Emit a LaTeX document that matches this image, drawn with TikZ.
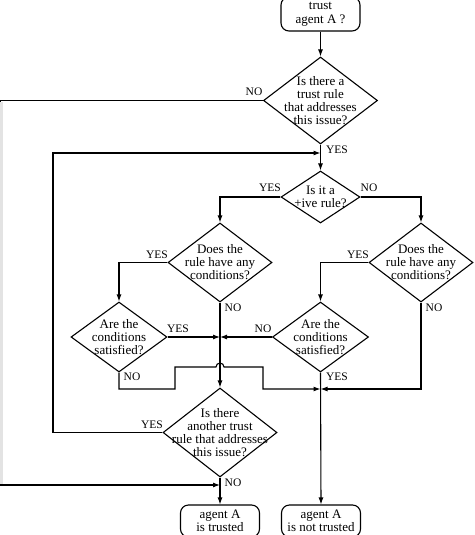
\documentclass[tikz,border=0pt]{standalone}
\usepackage{fontspec}
\setmainfont{Liberation Serif}
\usetikzlibrary{shapes.geometric,arrows.meta}
\begin{document}
\begin{tikzpicture}[x=1pt,y=-1pt,
  line width=1.1pt,
  >={Latex[length=7pt,width=5pt]},
  dia/.style={draw,diamond,inner sep=0pt,line width=1.1pt},
  txt/.style={align=center,font=\fontsize{13}{13}\selectfont,inner sep=0pt},
  term/.style={draw,rounded corners=8pt,minimum width=79pt,align=center,
    font=\fontsize{13}{13.5}\selectfont,inner sep=0pt},
  lbl/.style={font=\fontsize{11.5}{12}\selectfont,inner sep=0pt}]
\useasboundingbox (0,0) rectangle (474,535);

% terminals
\node[term,minimum height=34pt] (start) at (320.5,14) {trust\\agent A ?};
\node[term,minimum height=32pt] (yes) at (220,521) {agent A\\is trusted};
\node[term,minimum height=32pt] (no) at (321,521) {agent A\\is not trusted};

% decisions
\node[dia,minimum width=114pt,minimum height=87pt] (d1) at (320.5,100.5) {};
\node[txt] at (d1) {Is there a\\trust rule\\that addresses\\this issue?};
\node[dia,minimum width=79pt,minimum height=52pt] (d2) at (320.5,197) {};
\node[txt] at (d2) {Is it a\\+ive rule?};
\node[dia,minimum width=104pt,minimum height=79pt] (d3) at (220,262.5) {};
\node[txt] at (d3) {Does the\\rule have any\\conditions?};
\node[dia,minimum width=104pt,minimum height=79pt] (d4) at (421,262.5) {};
\node[txt] at (d4) {Does the\\rule have any\\conditions?};
\node[dia,minimum width=96pt,minimum height=70pt] (d5) at (119,337) {};
\node[txt] at (d5) {Are the\\conditions\\satisfied?};
\node[dia,minimum width=96pt,minimum height=70pt] (d6) at (320.5,337) {};
\node[txt] at (d6) {Are the\\conditions\\satisfied?};
\node[dia,minimum width=114pt,minimum height=89pt] (d7) at (220,432.5) {};
\node[txt] at (d7) {Is there\\another trust\\rule that addresses\\this issue?};

% junction points
\coordinate (jtop) at (320.5,153);
\coordinate (j1) at (220,337);
\coordinate (j2) at (320.5,389);
\coordinate (jb) at (220,485);

% connectors
\draw[->] (start) -- (d1);
\draw[->] (d1) -- (d2);
\draw[->] (d2.west) -| (d3.north);
\draw[->] (d2.east) -| (d4.north);
\draw[->] (d3.west) -| (d5.north);
\draw[->] (d4.west) -| (d6.north);
\draw[->] (d3.south) -- (d7.north);
\draw[->] (d5.east) -- (j1);
\draw[->] (d6.west) -- (j1);
\draw[->] (d6.south) -- (no.north);
\draw[->] (d4.south) |- (j2);
\draw[->] (d5.south) -- (119,389) -- (175,389) -- (175,367) -- (216,367)
   arc (180:360:4) -- (263,367) -- (263,389) -- (j2);
\draw[->] (d7.west) -| (53,153) -- (jtop);
\draw[->] (d7.south) -- (yes.north);
\draw[->] (d1.west) -- (0,100.5) -- (0,485) -- (jb);
\fill[gray!22] (0,101.5) rectangle (3,484);

% labels
\node[lbl] at (254,92) {NO};
\node[lbl] at (337,150) {YES};
\node[lbl] at (270,188) {YES};
\node[lbl] at (369,188) {NO};
\node[lbl] at (157,255) {YES};
\node[lbl] at (233,308) {NO};
\node[lbl] at (358,255) {YES};
\node[lbl] at (434,308) {NO};
\node[lbl] at (178,329) {YES};
\node[lbl] at (263,329) {NO};
\node[lbl] at (132,377) {NO};
\node[lbl] at (337,377) {YES};
\node[lbl] at (152,425) {YES};
\node[lbl] at (233,483) {NO};
\end{tikzpicture}
\end{document}
